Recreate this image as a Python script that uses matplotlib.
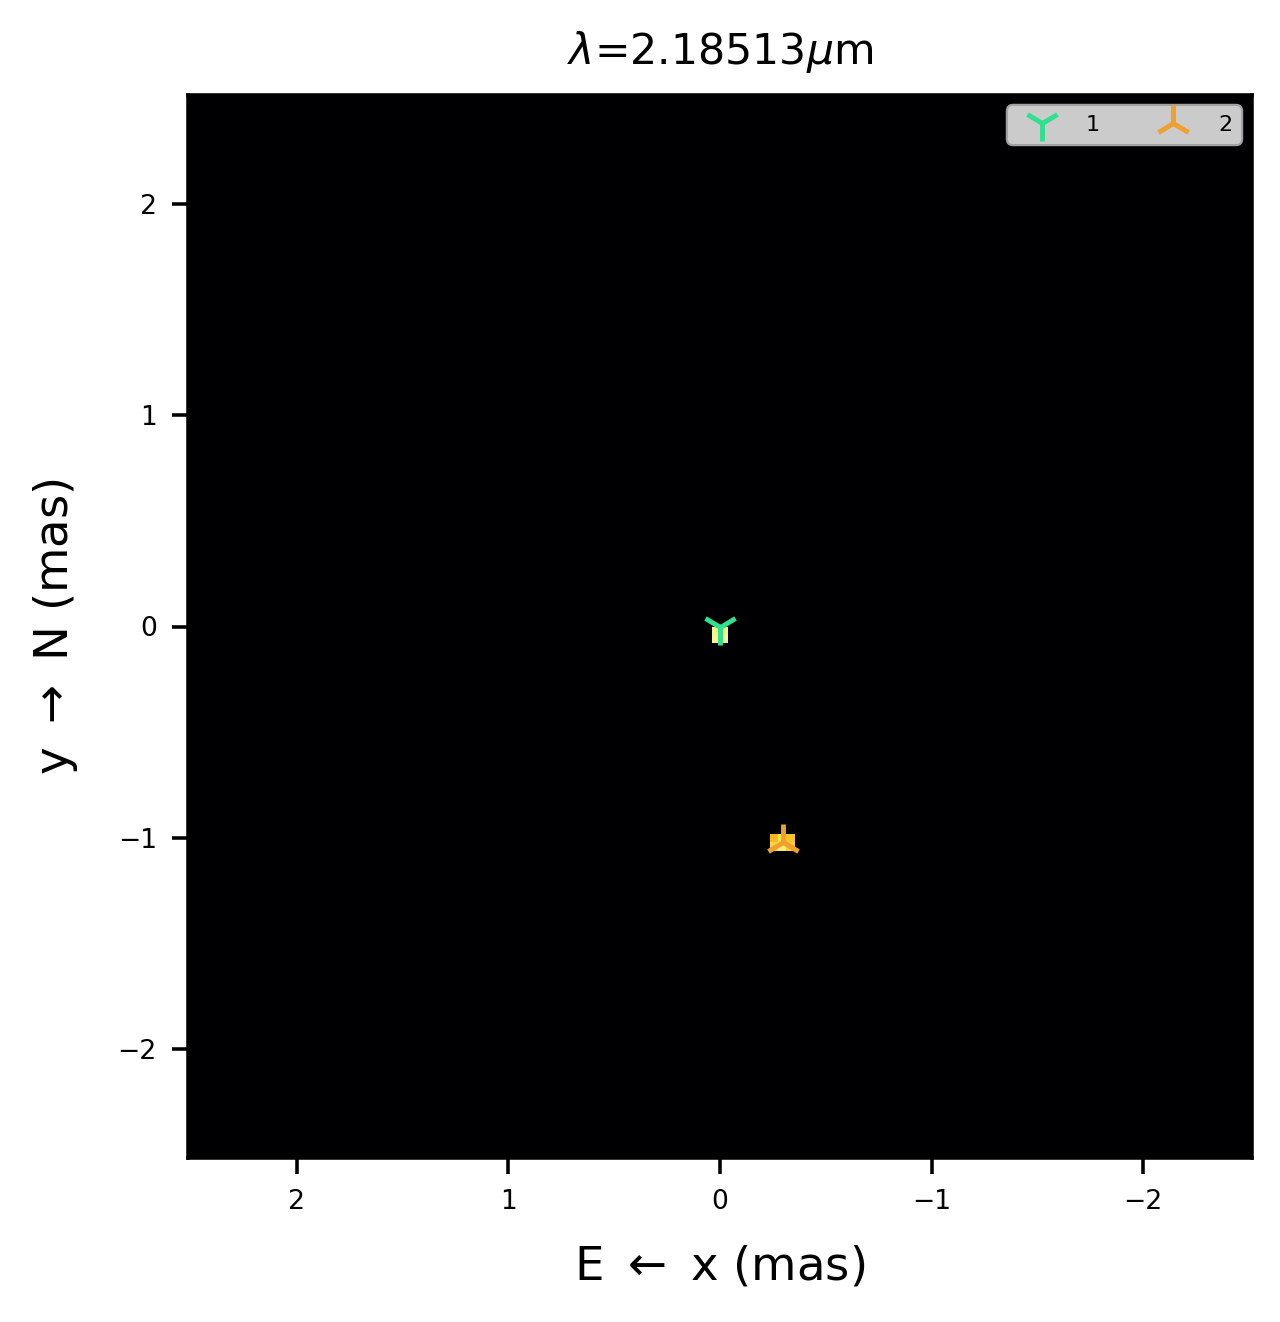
import numpy as np
import matplotlib
matplotlib.use('Agg')
import matplotlib.pyplot as plt

# --- data ---
wavelength = 2.18513          # micron
fov_half = 2.515              # mas, half field of view
npix = 128

# star positions (mas) and labels
star_labels = ['1', '2']
star_x = [0.0, -0.30]
star_y = [0.0, -1.02]
star_markers = ['1', '2']
star_colors = ['#2fe08e', '#f0a02c']

# bright image pixels (pixel centres in mas) and normalised intensity
pix_x = [0.02, -0.02, 0.02, -0.02,
         -0.25, -0.29, -0.33, -0.25, -0.29, -0.33]
pix_y = [-0.02, -0.02, -0.06, -0.06,
         -1.00, -1.00, -1.00, -1.04, -1.04, -1.04]
pix_val = [0.97, 0.97, 0.98, 0.98,
           0.84, 0.92, 0.86, 0.90, 0.95, 0.88]

# build the image
psize = 2 * fov_half / npix
img = np.zeros((npix, npix))
for x, y, v in zip(pix_x, pix_y, pix_val):
    j = int((fov_half - x) / psize)
    i = int((y + fov_half) / psize)
    img[i, j] = v

fig = plt.figure(figsize=(4, 1322 / 320.), dpi=320)
ax = fig.add_axes([188 / 1280., 1 - 1158 / 1322., 1064 / 1280., 1063 / 1322.])
ax.imshow(img, cmap='inferno', origin='lower', interpolation='nearest',
          extent=[fov_half, -fov_half, -fov_half, fov_half], vmin=0, vmax=1,
          aspect='auto')

for lab, x, y, m, c in zip(star_labels, star_x, star_y, star_markers, star_colors):
    ax.plot(x, y, linestyle='none', marker=m, color=c, markersize=8.3,
            markeredgewidth=1.1, label=lab)

ax.set_xlim(fov_half, -fov_half)
ax.set_ylim(-fov_half, fov_half)
ax.set_xticks([2, 1, 0, -1, -2])
ax.set_yticks([-2, -1, 0, 1, 2])
ax.tick_params(labelsize=6)
ax.set_xlabel(r'E $\leftarrow$ x (mas)', fontsize=10.5, labelpad=6.5)
ax.set_ylabel(r'y $\rightarrow$ N (mas)', fontsize=10.5, labelpad=8.5)
ax.set_title(r'$\lambda$=%.5f$\mu$m' % wavelength, fontsize=9.6, pad=7)

ax.legend(loc='upper right', ncol=2, fontsize=5, handlelength=2.2,
          handletextpad=0.9, columnspacing=2.2)

fig.savefig('out.png', dpi=320)
